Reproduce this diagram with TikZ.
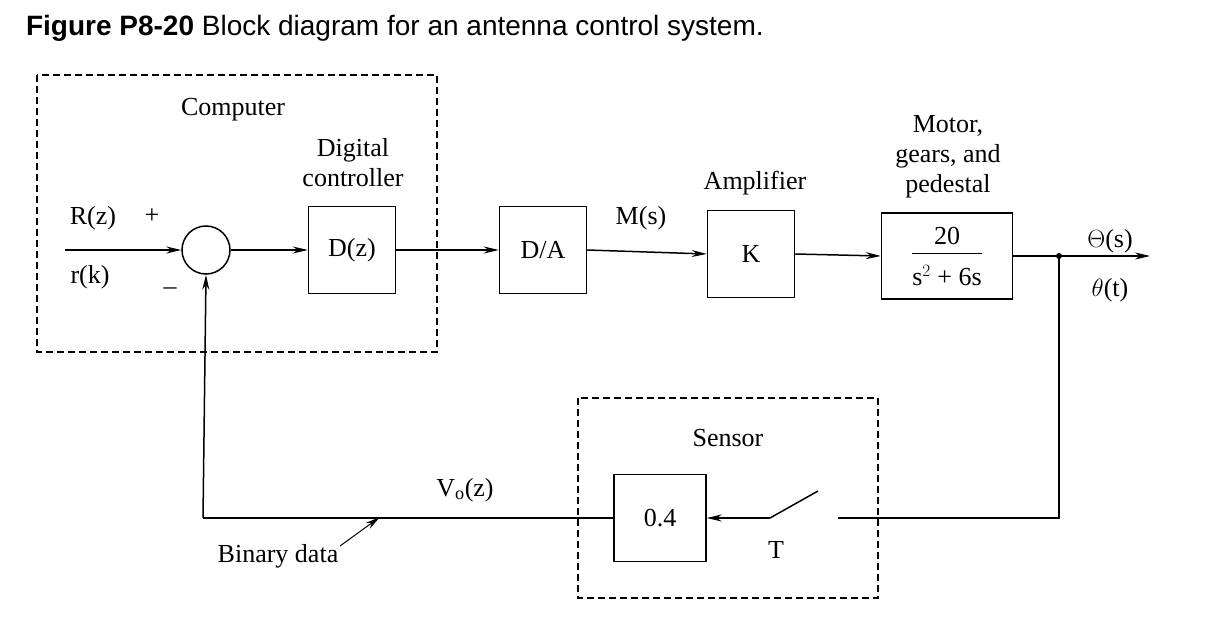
\documentclass[tikz,border=0pt]{standalone}
\usepackage{fontspec}
\setmainfont{Liberation Serif}
\newfontfamily\sansf{Liberation Sans}
\usetikzlibrary{arrows.meta}
\begin{document}
\begin{tikzpicture}[x=1pt,y=-1pt,line width=1.5pt,
  blk/.style={draw,minimum width=87pt,minimum height=87pt,inner sep=0pt},
  lbl/.style={font=\fontsize{26}{30}\selectfont,align=center},
  dbox/.style={draw,dashed,line width=1.1pt,dash pattern=on 7pt off 4pt},
  arr/.style={-{Stealth[length=15pt,width=7pt]}}]
\useasboundingbox (0,0) rectangle (1226,628);
\node[anchor=west,font=\sansf\fontsize{28}{30}\selectfont] (title) at (22,28) {\textbf{Figure P8-20} Block diagram for an antenna control system.};
\draw[dbox] (37,75) rectangle (437,352);
\draw[dbox] (578,398) rectangle (878,598);
\node[lbl] (comp) at (233,110) {Computer};
\node[lbl] (dcl) at (353,163) {Digital\\controller};
\node[draw,circle,minimum size=48pt,inner sep=0pt] (sum) at (206,250) {};
\coordinate (in) at (65,250);
\node[lbl] (R) at (93,218) {R(z)};
\node[lbl] (plus) at (152,216) {+};
\node[lbl] (rk) at (90,277) {r(k)};
\node[lbl] (minus) at (170,291) {--};
\node[blk,lbl] (D) at (352,250) {D(z)};
\node[blk,lbl] (DA) at (543,250) {D/A};
\node[lbl] (M) at (641,218) {M(s)};
\node[blk,lbl] (K) at (751,254) {K};
\node[lbl] (amp) at (755,183) {Amplifier};
\node[draw,minimum width=131pt,minimum height=86pt,inner sep=0pt] (G) at (947,256) {};
\node[lbl] (num) at (947,236) {20};
\draw[line width=1pt] (912,254) -- (982,254);
\node[lbl] (den) at (947,276) {s$^2$ + 6s};
\node[lbl] (mot) at (948,157) {Motor,\\gears, and\\pedestal};
\coordinate (j) at (1059,256);
\coordinate (out) at (1150,256);
\node[lbl] (Th) at (1110,241) {$\Theta$(s)};
\node[lbl] (th) at (1110,290) {$\theta$(t)};
\node[lbl] (sens) at (728,438) {Sensor};
\node[blk,minimum width=92pt,lbl] (S) at (660,518) {0.4};
\node[lbl] (T) at (776,550) {T};
\node[lbl] (Vo) at (465,490) {V$_{\mathrm o}$(z)};
\node[lbl] (bd) at (278,556) {Binary data};
\coordinate (sw1) at (838,518);
\coordinate (sw0) at (770,518);
\coordinate (swt) at (818,491);
\coordinate (fl) at (203,518);
\coordinate (ba) at (380,517);
\coordinate (bb) at (340,546);
\draw[arr] (in) -- (sum.west);
\draw[arr] (sum.east) -- (D.west);
\draw[arr] (D.east) -- (DA.west);
\draw[arr] (DA.east) -- (K.west);
\draw[arr] (K.east) -- (G.west);
\draw[arr] (G.east) -- (out);
\fill (j) circle (3pt);
\draw (j) |- (sw1);
\draw (swt) -- (sw0);
\draw[arr] (sw0) -- (S.east);
\draw (S.west) -- (fl);
\draw[arr] (fl) -- (sum.south);
\draw[arr,line width=1pt] (bb) -- (ba);
\end{tikzpicture}
\end{document}
